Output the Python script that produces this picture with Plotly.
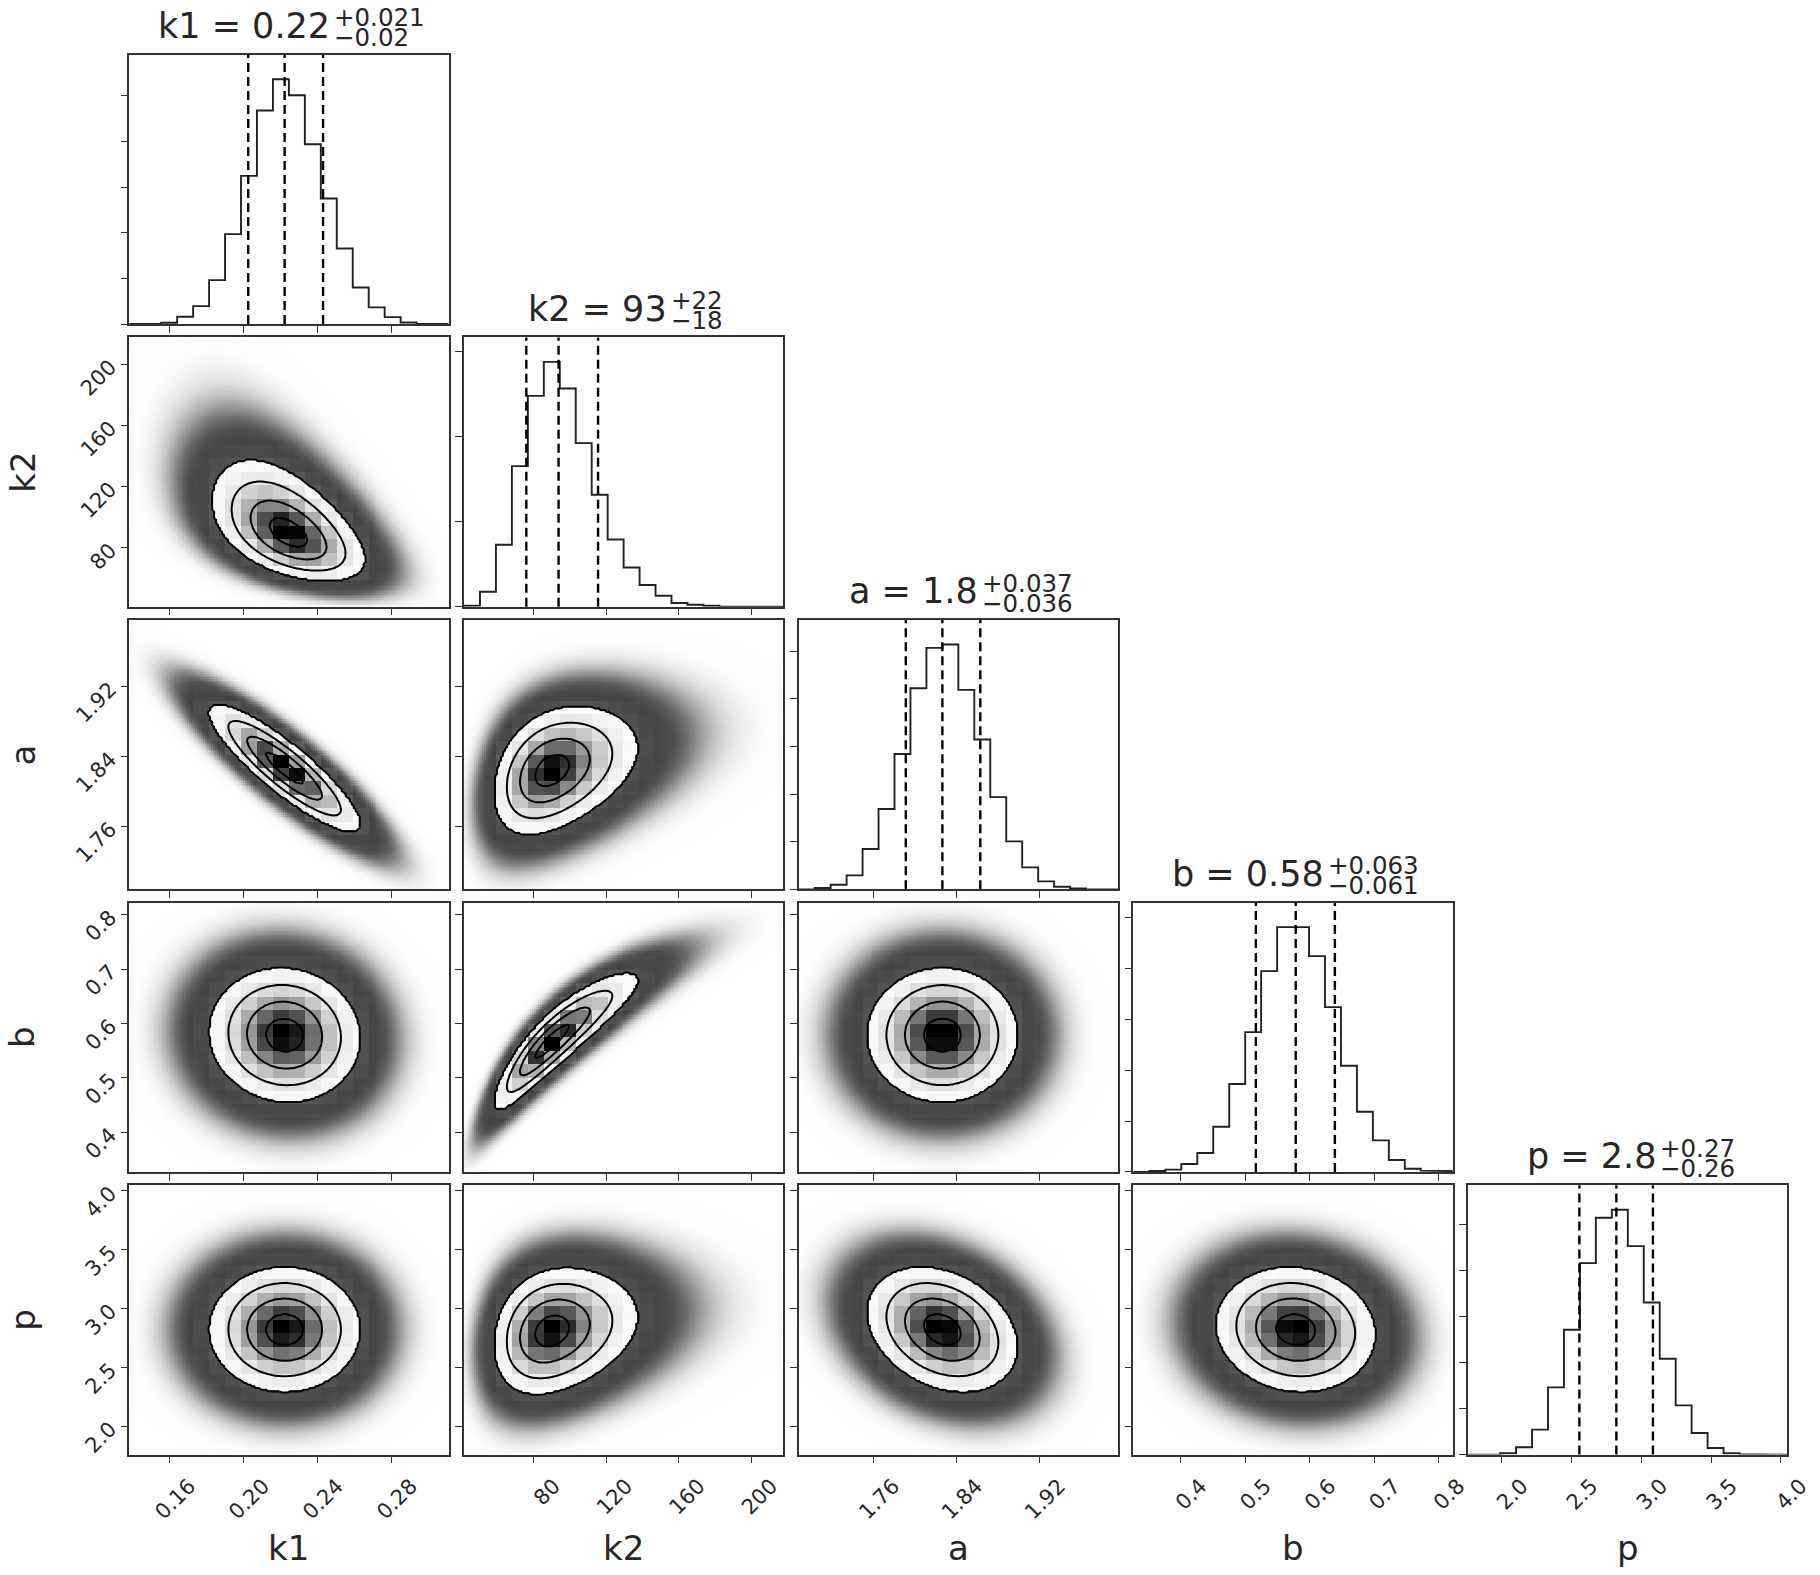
import numpy as np
import plotly.graph_objects as go

# ---------------------------------------------------------------- data
PARAMS = ["k1", "k2", "a", "b", "p"]

RANGE_K1 = [0.1383, 0.3111]
RANGE_K2 = [41.4, 217.6]
RANGE_A = [1.688, 1.996]
RANGE_B = [0.327, 0.822]
RANGE_P = [1.759, 4.047]

# tick values / labels
TICKS_K1 = [0.16, 0.20, 0.24, 0.28]
TICKS_K2 = [80, 120, 160, 200]
TICKS_A = [1.76, 1.84, 1.92]
TICKS_B = [0.4, 0.5, 0.6, 0.7, 0.8]
TICKS_P = [2.0, 2.5, 3.0, 3.5, 4.0]
TICKTEXT_K1 = ["0.16", "0.20", "0.24", "0.28"]
TICKTEXT_K2 = ["80", "120", "160", "200"]
TICKTEXT_A = ["1.76", "1.84", "1.92"]
TICKTEXT_B = ["0.4", "0.5", "0.6", "0.7", "0.8"]
TICKTEXT_P = ["2.0", "2.5", "3.0", "3.5", "4.0"]

# 1-D histogram counts (20 bins spanning each range)
HIST_K1 = [0, 0, 29, 161, 394, 964, 1971, 3248, 4679, 5365, 5015, 3942, 2752, 1657, 803, 365, 153, 36, 0, 0]
HIST_K2 = [24, 353, 1459, 3310, 4965, 5765, 5137, 3851, 2635, 1584, 925, 510, 259, 86, 47, 24, 0, 0, 0, 0]
HIST_A = [0, 28, 98, 294, 846, 1685, 2839, 4222, 5068, 5138, 4187, 3146, 1936, 1007, 461, 168, 56, 21, 0, 0]
HIST_B = [0, 20, 46, 157, 373, 889, 1726, 2745, 3941, 4804, 4804, 4235, 3235, 2085, 1183, 621, 235, 65, 26, 20]
HIST_P = [0, 0, 29, 159, 543, 1464, 2717, 4166, 5152, 5326, 4536, 3311, 2087, 1072, 471, 145, 29, 7, 0, 0]
HIST_YTICK_STEP = [1000, 2000, 1000, 1000, 1000]

# 16th / 50th / 84th percentiles (dashed lines)
Q16 = [0.2027, 75.8, 1.7913, 0.5168, 2.556]
Q50 = [0.2224, 93.6, 1.8266, 0.5786, 2.821]
Q84 = [0.2432, 115.4, 1.8632, 0.6393, 3.083]

# titles
TITLE_MAIN = ["k1 = 0.22", "k2 = 93", "a = 1.8", "b = 0.58", "p = 2.8"]
TITLE_PLUS = ["+0.021", "+22", "+0.037", "+0.063", "+0.27"]
TITLE_MINUS = ["\u22120.02", "\u221218", "\u22120.036", "\u22120.061", "\u22120.26"]

# pairwise correlations (k2 taken in log space)
LOG_PARAM = [False, True, False, False, False]
CORR = [
    [1.00, -0.50, -0.88, -0.05, 0.00],
    [-0.50, 1.00, 0.35, 0.90, 0.22],
    [-0.88, 0.35, 1.00, 0.00, -0.28],
    [-0.05, 0.90, 0.00, 1.00, -0.08],
    [0.00, 0.22, -0.28, -0.08, 1.00],
]
SIGMA_LEVELS = [0.5, 1.0, 1.5, 2.0]

RANGES = [RANGE_K1, RANGE_K2, RANGE_A, RANGE_B, RANGE_P]
TICKS = [TICKS_K1, TICKS_K2, TICKS_A, TICKS_B, TICKS_P]
TICKTEXT = [TICKTEXT_K1, TICKTEXT_K2, TICKTEXT_A, TICKTEXT_B, TICKTEXT_P]
HISTS = [HIST_K1, HIST_K2, HIST_A, HIST_B, HIST_P]

# ---------------------------------------------------------------- layout constants
W, H = 1820, 1575
COL_LEFT0, COL_PITCH, PANEL_W = 131.0, 339.2, 323.5
ROW_TOP0, ROW_PITCH, PANEL_H = 51.0, 283.9, 270.5
NB = 20          # histogram bins
SUB = 8          # fine cells per bin
FONT = "DejaVu Sans"
TXT = "#262626"
FRAME = "#333333"
DMAX, CLOUD_C = 0.76, 95.0

ADV = {d: 0.636 for d in "0123456789"}
ADV.update({".": 0.318, " ": 0.318, "=": 0.838, "+": 0.838, "\u2212": 0.838,
            "k": 0.579, "a": 0.613, "b": 0.635, "p": 0.635})


def text_w(s, f):
    return sum(ADV.get(c, 0.6) for c in s) * f


def px_x(v):
    return v / W


def px_y(v):
    return 1 - v / H


def tr(k, v):
    return np.log(v) if LOG_PARAM[k] else v


MU = [tr(k, Q50[k]) for k in range(5)]
SD = [(tr(k, Q84[k]) - tr(k, Q16[k])) / 2 for k in range(5)]

fig = go.Figure()
layout = dict(
    width=W, height=H, margin=dict(l=0, r=0, t=0, b=0),
    paper_bgcolor="white", plot_bgcolor="white", showlegend=False,
    font=dict(family=FONT, color=TXT),
)
shapes, annotations = [], []

axis_common = dict(showline=True, mirror=True, linecolor=FRAME, linewidth=1.5,
                   ticks="outside", ticklen=7, tickwidth=1.4, tickcolor=FRAME,
                   showgrid=False, zeroline=False, tickangle=-45,
                   tickfont=dict(family=FONT, size=21, color=TXT))

n = 0
for i in range(5):          # row
    for j in range(i + 1):  # column
        n += 1
        xa = "x" if n == 1 else f"x{n}"
        ya = "y" if n == 1 else f"y{n}"
        x0 = COL_LEFT0 + COL_PITCH * j
        top = ROW_TOP0 + ROW_PITCH * i
        xd = [px_x(x0), px_x(x0 + PANEL_W)]
        yd = [px_y(top + PANEL_H), px_y(top)]
        xr = RANGES[j]
        xaxis = dict(axis_common, domain=xd, anchor=ya, range=xr,
                     tickvals=TICKS[j], ticktext=TICKTEXT[j],
                     showticklabels=(i == 4), ticklabelshift=20, ticklabelstandoff=2)
        if i == j:
            counts = HISTS[j]
            edges = np.linspace(xr[0], xr[1], NB + 1)
            hx, hy = [edges[0]], [0]
            for k in range(NB):
                hx += [edges[k], edges[k + 1]]
                hy += [counts[k], counts[k]]
            hx.append(edges[-1]); hy.append(0)
            fig.add_trace(go.Scatter(x=hx, y=hy, mode="lines", xaxis=xa, yaxis=ya,
                                     line=dict(color="#222222", width=1.9),
                                     hoverinfo="skip"))
            ymax = 1.1 * max(counts)
            step = HIST_YTICK_STEP[j]
            yt = list(np.arange(0, ymax, step))
            yaxis = dict(axis_common, domain=yd, anchor=xa, range=[0, ymax],
                         tickvals=yt, showticklabels=False)
            for q in (Q16[j], Q50[j], Q84[j]):
                shapes.append(dict(type="line", xref=xa, yref=f"{ya} domain",
                                   x0=q, x1=q, y0=0, y1=1,
                                   line=dict(color="black", width=2.4, dash="9px,5px")))
            # title
            fm, fs = 35, 24.5
            wm = text_w(TITLE_MAIN[j], fm)
            ws = max(text_w(TITLE_PLUS[j], fs), text_w(TITLE_MINUS[j], fs))
            gap = 0
            cx = x0 + PANEL_W / 2 + 3
            split = cx - (wm + gap + ws) / 2 + wm
            annotations.append(dict(text=TITLE_MAIN[j], xref="paper", yref="paper",
                                    x=px_x(split), y=px_y(top - 29), xanchor="right",
                                    yanchor="middle", showarrow=False,
                                    font=dict(size=fm, family=FONT, color=TXT)))
            annotations.append(dict(text=TITLE_PLUS[j], xref="paper", yref="paper",
                                    x=px_x(split + gap), y=px_y(top - 37), xanchor="left",
                                    yanchor="middle", showarrow=False,
                                    font=dict(size=fs, family=FONT, color=TXT)))
            annotations.append(dict(text=TITLE_MINUS[j], xref="paper", yref="paper",
                                    x=px_x(split + gap), y=px_y(top - 17), xanchor="left",
                                    yanchor="middle", showarrow=False,
                                    font=dict(size=fs, family=FONT, color=TXT)))
        else:
            yr = RANGES[i]
            nf = NB * SUB
            xe = np.linspace(xr[0], xr[1], nf + 1)
            ye = np.linspace(yr[0], yr[1], nf + 1)
            xc = (xe[:-1] + xe[1:]) / 2
            yc = (ye[:-1] + ye[1:]) / 2
            X, Y = np.meshgrid(xc, yc)
            zx = (tr(j, X) - MU[j]) / SD[j]
            zy = (tr(i, Y) - MU[i]) / SD[i]
            rho = CORR[i][j]
            qf = (zx ** 2 - 2 * rho * zx * zy + zy ** 2) / (1 - rho ** 2)
            dens = np.exp(-0.5 * qf)
            if LOG_PARAM[j]:
                dens = dens / X
            if LOG_PARAM[i]:
                dens = dens / Y
            flat = np.sort(dens.ravel())[::-1]
            cum = np.cumsum(flat) / flat.sum()
            masses = [1 - np.exp(-0.5 * s ** 2) for s in SIGMA_LEVELS]
            V = sorted(flat[min(np.searchsorted(cum, m), len(flat) - 1)] for m in masses)
            blocks = dens.reshape(NB, SUB, NB, SUB).sum(axis=(1, 3))
            hb = blocks / blocks.max()
            hbf = np.kron(hb, np.ones((SUB, SUB)))
            h = dens / dens.max()
            cloud = 1 - DMAX * (1 - np.exp(-CLOUD_C * h))
            under = np.where(dens >= V[0], 1.0, cloud)
            final = hbf * (1 - hbf) + (1 - hbf) * under
            fig.add_trace(go.Heatmap(x=xc, y=yc, z=np.round(final, 3), xaxis=xa, yaxis=ya,
                                     colorscale=[[0, "rgb(0,0,0)"], [1, "rgb(255,255,255)"]],
                                     zmin=0, zmax=1, showscale=False, zsmooth=False,
                                     hoverinfo="skip"))
            logd = np.log(dens + 1e-300)
            lv = np.log(np.array(V))
            kx = np.concatenate([[logd.min() - 1], lv, [logd.max() + 1]])
            zt = np.interp(logd, kx, np.arange(len(kx)))
            fig.add_trace(go.Contour(x=xc, y=yc, z=np.round(zt, 4), xaxis=xa, yaxis=ya,
                                     autocontour=False,
                                     contours=dict(start=1, end=len(V), size=1,
                                                   coloring="none", showlabels=False),
                                     line=dict(color="black", width=2.0),
                                     showscale=False, hoverinfo="skip"))
            yaxis = dict(axis_common, domain=yd, anchor=xa, range=yr,
                         tickvals=TICKS[i], ticktext=TICKTEXT[i],
                         showticklabels=(j == 0), ticklabelstandoff=6)
        layout["xaxis" if n == 1 else f"xaxis{n}"] = xaxis
        layout["yaxis" if n == 1 else f"yaxis{n}"] = yaxis

# axis labels
for j in range(5):
    cx = COL_LEFT0 + COL_PITCH * j + PANEL_W / 2
    annotations.append(dict(text=PARAMS[j], xref="paper", yref="paper",
                            x=px_x(cx), y=px_y(1551), xanchor="center", yanchor="middle",
                            showarrow=False, font=dict(size=34, family=FONT, color=TXT)))
for i in range(1, 5):
    cy = ROW_TOP0 + ROW_PITCH * i + PANEL_H / 2
    annotations.append(dict(text=PARAMS[i], xref="paper", yref="paper",
                            x=px_x(23), y=px_y(cy), xanchor="center", yanchor="middle",
                            textangle=-90, showarrow=False,
                            font=dict(size=34, family=FONT, color=TXT)))

layout["shapes"] = shapes
layout["annotations"] = annotations
fig.update_layout(**layout)
fig.write_html("out.html", config={"displayModeBar": False},
               post_script="document.body.style.margin='0px';document.body.style.overflow='hidden';")
